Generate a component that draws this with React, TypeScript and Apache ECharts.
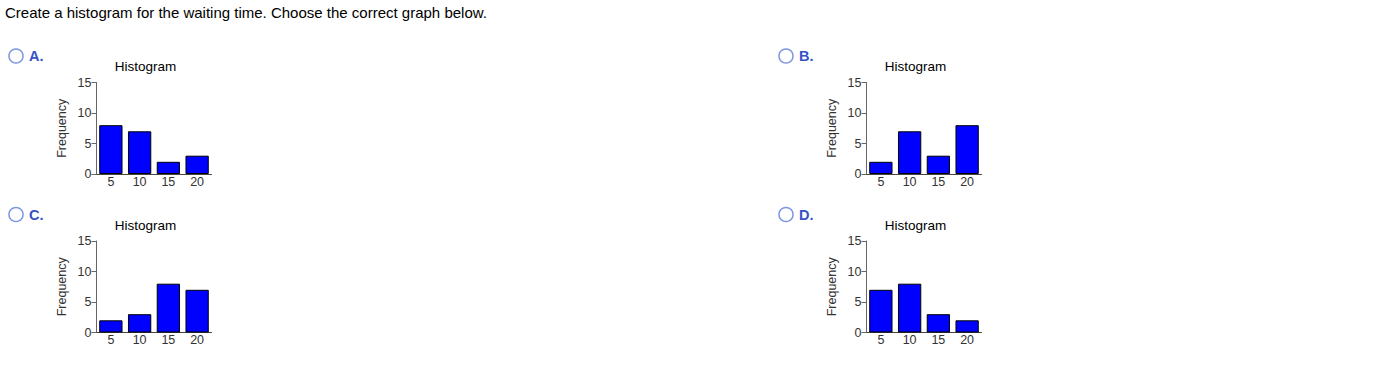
import React, { useEffect, useRef } from "react";
import * as echarts from "echarts";

const categories = ["5", "10", "15", "20"];
const optionLabels = ["A.", "B.", "C.", "D."];
const seriesA = [8, 7, 2, 3];
const seriesB = [2, 7, 3, 8];
const seriesC = [2, 3, 8, 7];
const seriesD = [7, 8, 3, 2];
const allSeries = [seriesA, seriesB, seriesC, seriesD];
const questionText = "Create a histogram for the waiting time. Choose the correct graph below.";
const chartTitle = "Histogram";
const yName = "Frequency";

const FONT = "Arial, 'Liberation Sans', Helvetica, sans-serif";

export default function App() {
  const ref = useRef<HTMLDivElement>(null);
  useEffect(() => {
    if (!ref.current) return;
    const chart = echarts.init(ref.current, null, { renderer: "svg" });
    const offsets = [
      { dx: 0, dy: 0 },
      { dx: 770, dy: 0 },
      { dx: 0, dy: 158.5 },
      { dx: 770, dy: 158.5 },
    ];
    const grids: any[] = [];
    const xAxes: any[] = [];
    const yAxes: any[] = [];
    const series: any[] = [];
    const graphics: any[] = [
      {
        type: "text",
        x: 5,
        y: 12,
        style: {
          text: questionText,
          font: `15px ${FONT}`,
          fill: "#000",
          textVerticalAlign: "middle",
        },
      },
    ];
    offsets.forEach((o, i) => {
      grids.push({ left: 96.5 + o.dx, top: 82.5 + o.dy, width: 115, height: 91.5 });
      xAxes.push({
        type: "category",
        gridIndex: i,
        data: categories,
        axisLine: { show: true, lineStyle: { color: "#444", width: 1 } },
        axisTick: { show: false },
        axisLabel: { color: "#333", fontSize: 12.5, fontFamily: FONT, margin: 1 },
      });
      yAxes.push({
        type: "value",
        gridIndex: i,
        min: 0,
        max: 15,
        interval: 5,
        name: yName,
        nameLocation: "middle",
        nameRotate: 90,
        nameGap: 28,
        nameTextStyle: { color: "#333", fontSize: 12.5, fontFamily: FONT },
        axisLine: { show: true, lineStyle: { color: "#666", width: 1 } },
        axisTick: { show: true, length: 5, inside: false, lineStyle: { color: "#666" } },
        axisLabel: { color: "#333", fontSize: 12.5, fontFamily: FONT, margin: 5 },
        splitLine: { show: false },
      });
      series.push({
        type: "bar",
        xAxisIndex: i,
        yAxisIndex: i,
        data: allSeries[i],
        barCategoryGap: "19%",
        itemStyle: { color: "#0000ff", borderColor: "#000", borderWidth: 1 },
      });
      graphics.push({
        type: "text",
        x: 145.5 + o.dx,
        y: 66.5 + o.dy,
        style: {
          text: chartTitle,
          font: `13.5px ${FONT}`,
          fill: "#000",
          textAlign: "center",
          textVerticalAlign: "middle",
        },
      });
      graphics.push({
        type: "circle",
        shape: { cx: 16 + o.dx, cy: 56 + o.dy, r: 7 },
        style: { fill: "#fff", stroke: "#7b96e0", lineWidth: 1.5 },
      });
      graphics.push({
        type: "text",
        x: 29 + o.dx,
        y: 56 + o.dy,
        style: {
          text: optionLabels[i],
          font: `bold 14.5px ${FONT}`,
          fill: "#3652c4",
          textVerticalAlign: "middle",
        },
      });
    });
    chart.setOption({
      animation: false,
      backgroundColor: "#fff",
      grid: grids,
      xAxis: xAxes,
      yAxis: yAxes,
      series,
      graphic: graphics,
    });
    return () => chart.dispose();
  }, []);
  return (
    <div
      ref={ref}
      style={{ position: "fixed", left: 0, top: 0, width: 1379, height: 376, background: "#fff" }}
    />
  );
}
